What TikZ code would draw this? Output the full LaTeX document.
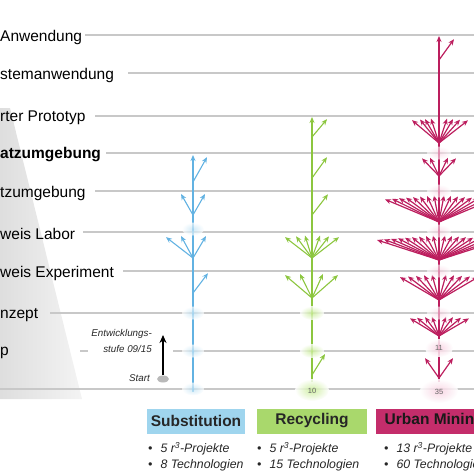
\documentclass[tikz,border=0pt]{standalone}
\usepackage{fontspec}
\setmainfont{Liberation Sans}
\usetikzlibrary{arrows.meta,shapes.geometric}
\definecolor{cblue}{HTML}{62B2E2}
\definecolor{cgreen}{HTML}{8CC63F}
\definecolor{cmag}{HTML}{BC1E5E}
\definecolor{bblue}{HTML}{BFE2F4}
\definecolor{bgreen}{HTML}{C8EC96}
\definecolor{bmag}{HTML}{F7D0E0}
\definecolor{lblue}{HTML}{9FD5EE}
\definecolor{lgreen}{HTML}{A9D86C}
\definecolor{lmag}{HTML}{C42D6B}
\definecolor{gline}{HTML}{C8C8C8}
\newcommand{\drawfan}[6]{%
  \coordinate (#1o) at (#3,#4);
  \foreach \ex [count=\k] in {#6}{%
    \pgfmathsetmacro{\ey}{#5+0.08*abs(\ex-#3)}
    \coordinate (#1e\k) at (\ex,\ey);
    \draw[#2] (#1o) -- (#1e\k);
  }%
}
\begin{document}
\begin{tikzpicture}[x=1pt,y=-1pt,
  lvl/.style={draw=gline,line width=1.3pt},
  lab/.style={anchor=west,inner sep=0pt,font=\fontsize{15.5}{17}\selectfont},
  tip/.style={-{Stealth[length=6pt,width=5pt]}},
  barr/.style={draw=cblue,line width=1.1pt,tip},
  garr/.style={draw=cgreen,line width=1.1pt,tip},
  marr/.style={draw=cmag,line width=1.2pt,tip},
  blob/.style={ellipse,inner sep=0pt,opacity=.85},
  blobtxt/.style={font=\fontsize{7.5}{8}\selectfont,text=black!60,inner sep=0pt},
  legbox/.style={rectangle,inner sep=0pt,minimum height=25,font=\fontsize{15.5}{17}\selectfont\bfseries,text=black!85},
  bul/.style={anchor=west,inner sep=0pt,font=\fontsize{12.3}{14}\selectfont\itshape,text=black!85},
  note/.style={anchor=east,inner sep=0pt,font=\fontsize{9.8}{11}\selectfont\itshape,text=black!85}
]
\useasboundingbox (0,0) rectangle (474,474);
% gray pyramid
\shade[left color=gray!26,right color=gray!9] (0,108) -- (10,108) -- (82,399) -- (0,399) -- cycle;
% level labels
\node[lab] (l9) at (0,37) {Anwendung};
\node[lab] (l8) at (0,75) {stemanwendung};
\node[lab] (l7) at (0,118) {rter Prototyp};
\node[lab,font=\fontsize{15.5}{17}\selectfont\bfseries] (l6) at (0,155) {atzumgebung};
\node[lab] (l5) at (0,193) {tzumgebung};
\node[lab] (l4) at (0,234) {weis Labor};
\node[lab] (l3) at (0,273) {weis Experiment};
\node[lab] (l2) at (0,315) {nzept};
\node[lab] (l1) at (0,353) {p};
% level lines
\coordinate (r9) at (474,35); \draw[lvl] (85,35) -- (r9);
\coordinate (r8) at (474,73); \draw[lvl] (128,73) -- (r8);
\coordinate (r7) at (474,116); \draw[lvl] (95,116) -- (r7);
\coordinate (r6) at (474,153); \draw[lvl] (106,153) -- (r6);
\coordinate (r5) at (474,191); \draw[lvl] (95,191) -- (r5);
\coordinate (r4) at (474,232); \draw[lvl] (83,232) -- (r4);
\coordinate (r3) at (474,271); \draw[lvl] (123,271) -- (r3);
\coordinate (r2) at (474,313); \draw[lvl] (50,313) -- (r2);
\coordinate (r1) at (474,351); \draw[lvl] (80,351) -- (88,351); \draw[lvl] (173,351) -- (r1);
\coordinate (r0) at (474,389); \draw[lvl] (0,389) -- (r0);
% development-stage annotation
\node[note] (ea) at (152,334) {Entwicklungs-};
\node[note] (eb) at (152,349) {stufe 09/15};
\node[note] (est) at (150,378) {Start};
\node[ellipse,fill=gray!55,minimum width=12,minimum height=7,inner sep=0pt] (sdot) at (163,379) {};
\coordinate (etop) at (163,335);
\draw[line width=1.7pt,-{Stealth[length=8pt,width=7pt]}] (sdot.north) -- (etop);
% ---------- blue column ----------
\coordinate (bbot) at (193,392); \coordinate (btop) at (193,155);
\draw[barr] (bbot) -- (btop);
\drawfan{bA}{barr}{193}{293}{272}{208}
\drawfan{bB}{barr}{193}{258}{235}{166,181,206}
\drawfan{bC}{barr}{193}{215}{193}{181,205}
\drawfan{bD}{barr}{193}{182}{156}{207}
\foreach \yy in {389,351,313,229}{\node[blob,minimum width=22,minimum height=13,inner color=bblue,outer color=white,opacity=.7] at (193,\yy) {};}
% ---------- green column ----------
\coordinate (gbot) at (312,382); \coordinate (gtop) at (312,117);
\draw[garr] (gbot) -- (gtop);
\drawfan{gA}{garr}{312}{375}{353}{325}
\drawfan{gB}{garr}{312}{298}{273}{285,300,323,338}
\drawfan{gC}{garr}{312}{258}{235}{285,296,305,320,329,339}
\drawfan{gD}{garr}{312}{215}{193}{328}
\drawfan{gE}{garr}{312}{178}{156}{327}
\drawfan{gF}{garr}{312}{137}{118}{327}
\foreach \yy in {351,313}{\node[blob,minimum width=24,minimum height=14,inner color=bgreen,outer color=white,opacity=.8] at (312,\yy) {};}
\node[blob,minimum width=34,minimum height=22,inner color=bgreen,outer color=white] (g10) at (312,390) {};
\node[blobtxt] (g10t) at (312,391) {10};
% ---------- magenta column ----------
\coordinate (mbot) at (439,382); \coordinate (mtop) at (439,36);
\draw[marr] (mbot) -- (mtop);
\drawfan{mA}{marr}{439}{378}{357}{425,453}
\drawfan{mB}{marr}{439}{336}{316}{410,417,425,432,446,453,461,469}
\drawfan{mC}{marr}{439}{300}{274}{400,408,416,424,432,446,454,462,470,478}
\drawfan{mD}{marr}{439}{260}{235}{377,384,391,398,405,412,419,426,433,445,452,459,466,473,480,487,494,501}
\drawfan{mE}{marr}{439}{222}{195}{385,392,399,406,413,420,427,434,444,451,458,465,472,479,486,493}
\drawfan{mF}{marr}{439}{176}{157}{422,430,448,456}
\drawfan{mG}{marr}{439}{143}{118}{412,420,425,431,447,453,460,468}
\drawfan{mH}{marr}{439}{60}{38}{454}
\foreach \yy in {313,271,231,191,153}{\node[blob,minimum width=24,minimum height=13,inner color=bmag,outer color=white,opacity=.6] at (439,\yy) {};}
\node[blob,minimum width=28,minimum height=18,inner color=bmag,outer color=white] (m11) at (439,348) {};
\node[blobtxt] (m11t) at (439,348) {11};
\node[blob,minimum width=38,minimum height=24,inner color=bmag,outer color=white] (m35) at (439,391) {};
\node[blobtxt] (m35t) at (439,392) {35};
% ---------- legend ----------
\node[legbox,fill=lblue,minimum width=98] (sub) at (196,421) {Substitution};
\node[legbox,fill=lgreen,minimum width=110] (rec) at (312,421) {Recycling};
\node[legbox,fill=lmag,minimum width=110,anchor=west,text=black!90] (urb) at (376,421) {\hspace{6pt}Urban Mining};
\node[bul] (s1) at (148,449) {•\hspace{8pt}5 r\textsuperscript{3}-Projekte};
\node[bul] (s2) at (148,465) {•\hspace{8pt}8 Technologien};
\node[bul] (c1) at (257,449) {•\hspace{8pt}5 r\textsuperscript{3}-Projekte};
\node[bul] (c2) at (257,465) {•\hspace{8pt}15 Technologien};
\node[bul] (u1) at (384,449) {•\hspace{8pt}13 r\textsuperscript{3}-Projekte};
\node[bul] (u2) at (384,465) {•\hspace{8pt}60 Technologien};
\end{tikzpicture}
\end{document}
